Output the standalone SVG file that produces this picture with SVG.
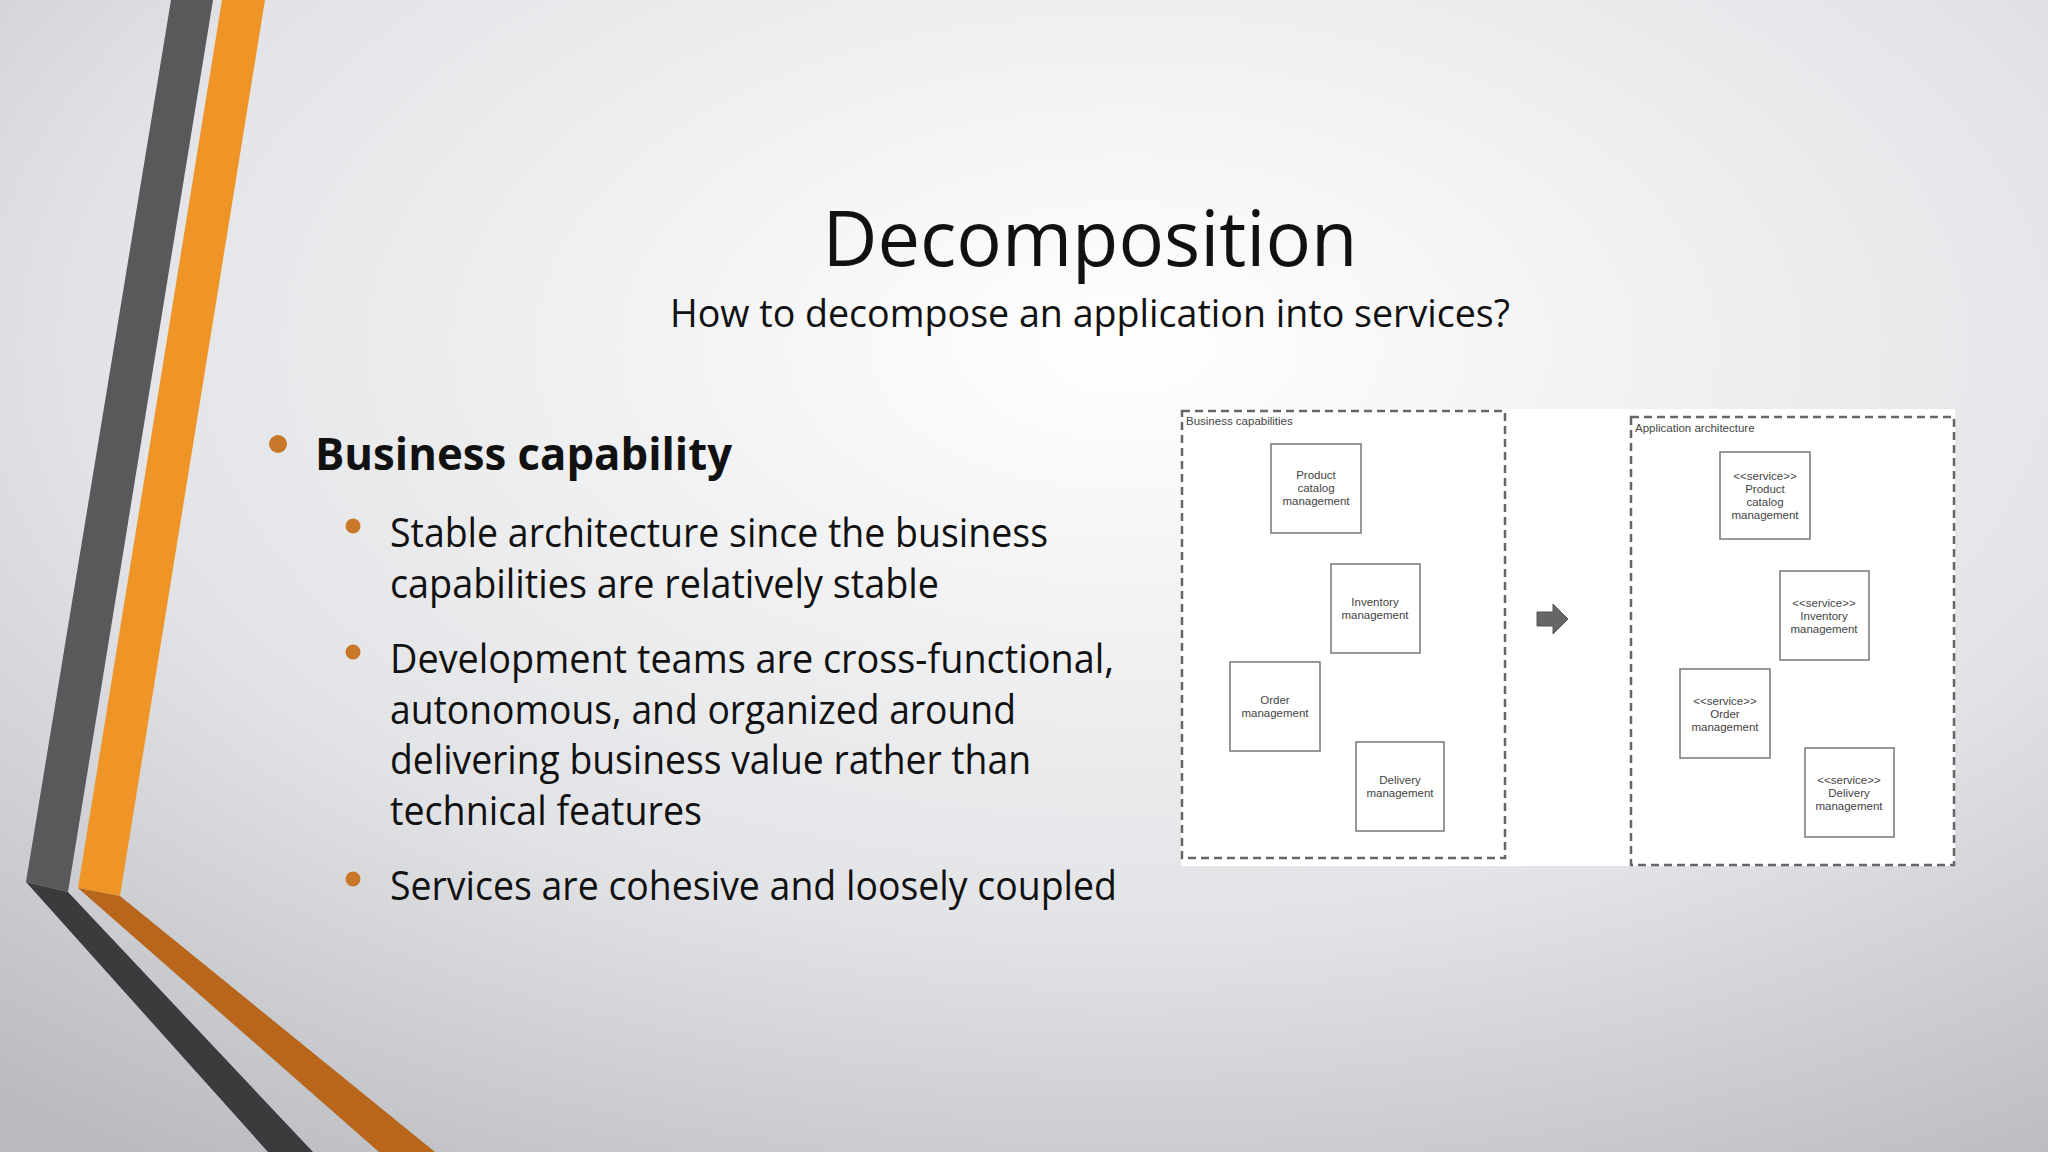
<svg xmlns="http://www.w3.org/2000/svg" width="2048" height="1152" viewBox="0 0 2048 1152">
<defs>
<radialGradient id="bg" cx="0.55" cy="0.3" r="0.85">
<stop offset="0" stop-color="#ffffff"/><stop offset="0.6" stop-color="#e2e3e6"/><stop offset="1" stop-color="#b9bbc0"/>
</radialGradient>
<style>
.t{font-family:"Open Sans","Liberation Sans",sans-serif;fill:#111}
.b{font-size:40px}
.bx{fill:#fff;stroke:#777;stroke-width:1.5}
.dash{fill:none;stroke:#666;stroke-width:2.5;stroke-dasharray:8 5}
.s{font-family:"Liberation Sans",Arial,sans-serif;font-size:11.5px;fill:#444;text-anchor:middle}
.h{font-family:"Liberation Sans",Arial,sans-serif;font-size:11.5px;fill:#444}
</style>
</defs>
<rect width="2048" height="1152" fill="url(#bg)"/>
<g id="decoration">
<polygon points="171,0 213,0 68,892 26,882" fill="#58595b"/>
<polygon points="26,882 68,892 313,1152 268,1152" fill="#3b3b3d"/>
<polygon points="222,0 265,0 120,896 78,888" fill="#ef9527"/>
<polygon points="78,888 120,896 435,1152 379,1152" fill="#b8661b"/>
</g>
<g id="title">
<text class="t" x="1090" y="266" font-size="76" text-anchor="middle" textLength="535" lengthAdjust="spacingAndGlyphs">Decomposition</text>
<text class="t" x="1090" y="327" font-size="38" text-anchor="middle" textLength="840" lengthAdjust="spacingAndGlyphs">How to decompose an application into services?</text>
</g>
<g id="bullets">
<circle cx="278" cy="444" r="9" fill="#c9782a"/>
<text class="t" x="315" y="470" font-size="44" font-weight="bold" textLength="417" lengthAdjust="spacingAndGlyphs">Business capability</text>
<circle cx="353" cy="526" r="7.5" fill="#c9782a"/>
<circle cx="353" cy="652" r="7.5" fill="#c9782a"/>
<circle cx="353" cy="879" r="7.5" fill="#c9782a"/>
<text class="t b" x="390" y="547" textLength="658" lengthAdjust="spacingAndGlyphs">Stable architecture since the business</text>
<text class="t b" x="390" y="598" textLength="549" lengthAdjust="spacingAndGlyphs">capabilities are relatively stable</text>
<text class="t b" x="390" y="673" textLength="724" lengthAdjust="spacingAndGlyphs">Development teams are cross-functional,</text>
<text class="t b" x="390" y="724" textLength="626" lengthAdjust="spacingAndGlyphs">autonomous, and organized around</text>
<text class="t b" x="390" y="774" textLength="641" lengthAdjust="spacingAndGlyphs">delivering business value rather than</text>
<text class="t b" x="390" y="825" textLength="312" lengthAdjust="spacingAndGlyphs">technical features</text>
<text class="t b" x="390" y="900" textLength="727" lengthAdjust="spacingAndGlyphs">Services are cohesive and loosely coupled</text>
</g>
<rect x="1181" y="409" width="774" height="457" fill="#fff"/>
<g id="business-capabilities">
<rect class="dash" x="1182" y="411" width="323" height="447"/>
<text class="h" x="1186" y="425">Business capabilities</text>
</g>
<g id="bc-product"><rect class="bx" x="1271" y="444" width="90" height="89"/><text class="s" x="1316" y="479">Product</text><text class="s" x="1316" y="492">catalog</text><text class="s" x="1316" y="505">management</text></g>
<g id="bc-inventory"><rect class="bx" x="1331" y="564" width="89" height="89"/><text class="s" x="1375" y="606">Inventory</text><text class="s" x="1375" y="619">management</text></g>
<g id="bc-order"><rect class="bx" x="1230" y="662" width="90" height="89"/><text class="s" x="1275" y="704">Order</text><text class="s" x="1275" y="717">management</text></g>
<g id="bc-delivery"><rect class="bx" x="1356" y="742" width="88" height="89"/><text class="s" x="1400" y="784">Delivery</text><text class="s" x="1400" y="797">management</text></g>
<g id="connectors">
<polygon points="1537,612 1553,612 1553,604 1568,619 1553,634 1553,626 1537,626" fill="#666" stroke="#555" stroke-width="1"/>
</g>
<g id="application-architecture">
<rect class="dash" x="1631" y="417" width="323" height="448"/>
<text class="h" x="1635" y="432">Application architecture</text>
</g>
<g id="aa-product"><rect class="bx" x="1720" y="452" width="90" height="87"/><text class="s" x="1765" y="480">&lt;&lt;service&gt;&gt;</text><text class="s" x="1765" y="493">Product</text><text class="s" x="1765" y="506">catalog</text><text class="s" x="1765" y="519">management</text></g>
<g id="aa-inventory"><rect class="bx" x="1780" y="571" width="89" height="89"/><text class="s" x="1824" y="607">&lt;&lt;service&gt;&gt;</text><text class="s" x="1824" y="620">Inventory</text><text class="s" x="1824" y="633">management</text></g>
<g id="aa-order"><rect class="bx" x="1680" y="669" width="90" height="89"/><text class="s" x="1725" y="705">&lt;&lt;service&gt;&gt;</text><text class="s" x="1725" y="718">Order</text><text class="s" x="1725" y="731">management</text></g>
<g id="aa-delivery"><rect class="bx" x="1805" y="748" width="89" height="89"/><text class="s" x="1849" y="784">&lt;&lt;service&gt;&gt;</text><text class="s" x="1849" y="797">Delivery</text><text class="s" x="1849" y="810">management</text></g>
</svg>
